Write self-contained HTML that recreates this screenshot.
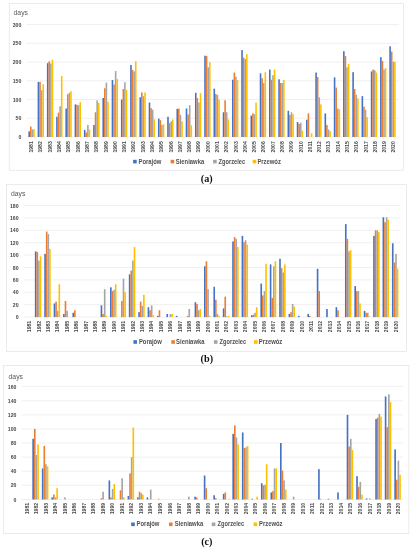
<!DOCTYPE html>
<html lang="en"><head><meta charset="utf-8"><title>Figure</title>
<style>
html,body{margin:0;padding:0;background:#fff;}
body{width:414px;height:550px;overflow:hidden;}
svg{display:block;}
svg text{font-family:"Liberation Sans",sans-serif;fill:#595959;}
.tk{font-size:5.2px;font-weight:bold;fill:#484848;}
.yr{font-size:5.1px;font-weight:bold;fill:#484848;}
.days{font-size:6.8px;}
.lg{font-size:6.4px;font-weight:bold;fill:#505050;}
svg text.pl{font-family:"Liberation Serif",serif;font-weight:bold;font-size:10.2px;fill:#111;}
</style></head><body>
<svg width="414" height="550" viewBox="0 0 414 550">
<rect width="414" height="550" fill="#fff"/>
<rect x="9.2" y="3.7" width="394.1" height="166.5" fill="#fff" stroke="#DEDEDE" stroke-width="0.6"/>
<line x1="26.6" x2="398.8" y1="137.00" y2="137.00" stroke="#D9D9D9" stroke-width="0.4"/>
<text x="21.3" y="139.00" text-anchor="end" class="tk">0</text>
<line x1="26.6" x2="398.8" y1="118.27" y2="118.27" stroke="#D9D9D9" stroke-width="0.4"/>
<text x="21.3" y="120.27" text-anchor="end" class="tk">50</text>
<line x1="26.6" x2="398.8" y1="99.53" y2="99.53" stroke="#D9D9D9" stroke-width="0.4"/>
<text x="21.3" y="101.53" text-anchor="end" class="tk">100</text>
<line x1="26.6" x2="398.8" y1="80.80" y2="80.80" stroke="#D9D9D9" stroke-width="0.4"/>
<text x="21.3" y="82.80" text-anchor="end" class="tk">150</text>
<line x1="26.6" x2="398.8" y1="62.06" y2="62.06" stroke="#D9D9D9" stroke-width="0.4"/>
<text x="21.3" y="64.06" text-anchor="end" class="tk">200</text>
<line x1="26.6" x2="398.8" y1="43.33" y2="43.33" stroke="#D9D9D9" stroke-width="0.4"/>
<text x="21.3" y="45.33" text-anchor="end" class="tk">250</text>
<line x1="26.6" x2="398.8" y1="24.59" y2="24.59" stroke="#D9D9D9" stroke-width="0.4"/>
<text x="21.3" y="26.59" text-anchor="end" class="tk">300</text>
<text x="13.6" y="14.6" class="days">days</text>
<rect x="28.38" y="131.38" width="1.59" height="5.62" fill="#4472C4"/>
<rect x="29.97" y="126.51" width="1.59" height="10.49" fill="#ED7D31"/>
<rect x="31.56" y="129.51" width="1.59" height="7.49" fill="#A5A5A5"/>
<rect x="33.15" y="129.13" width="1.59" height="7.87" fill="#FFC000"/>
<text transform="translate(33.20,141.2) rotate(-90)" text-anchor="end" class="yr">1981</text>
<rect x="37.63" y="81.92" width="1.59" height="55.08" fill="#4472C4"/>
<rect x="39.22" y="81.92" width="1.59" height="55.08" fill="#ED7D31"/>
<rect x="40.81" y="90.16" width="1.59" height="46.84" fill="#A5A5A5"/>
<rect x="42.41" y="84.17" width="1.59" height="52.83" fill="#FFC000"/>
<text transform="translate(42.49,141.2) rotate(-90)" text-anchor="end" class="yr">1982</text>
<rect x="46.89" y="63.18" width="1.59" height="73.82" fill="#4472C4"/>
<rect x="48.48" y="61.31" width="1.59" height="75.69" fill="#ED7D31"/>
<rect x="50.07" y="63.56" width="1.59" height="73.44" fill="#A5A5A5"/>
<rect x="51.66" y="59.81" width="1.59" height="77.19" fill="#FFC000"/>
<text transform="translate(51.77,141.2) rotate(-90)" text-anchor="end" class="yr">1983</text>
<rect x="56.14" y="116.77" width="1.59" height="20.23" fill="#4472C4"/>
<rect x="57.73" y="112.64" width="1.59" height="24.36" fill="#ED7D31"/>
<rect x="59.33" y="106.27" width="1.59" height="30.73" fill="#A5A5A5"/>
<rect x="60.92" y="75.92" width="1.59" height="61.08" fill="#FFC000"/>
<text transform="translate(61.06,141.2) rotate(-90)" text-anchor="end" class="yr">1984</text>
<rect x="65.40" y="108.52" width="1.59" height="28.48" fill="#4472C4"/>
<rect x="66.99" y="94.28" width="1.59" height="42.72" fill="#ED7D31"/>
<rect x="68.58" y="92.79" width="1.59" height="44.21" fill="#A5A5A5"/>
<rect x="70.17" y="91.29" width="1.59" height="45.71" fill="#FFC000"/>
<text transform="translate(70.35,141.2) rotate(-90)" text-anchor="end" class="yr">1985</text>
<rect x="74.65" y="104.40" width="1.59" height="32.60" fill="#4472C4"/>
<rect x="76.24" y="104.78" width="1.59" height="32.22" fill="#ED7D31"/>
<rect x="77.84" y="105.15" width="1.59" height="31.85" fill="#A5A5A5"/>
<rect x="79.43" y="102.15" width="1.59" height="34.85" fill="#FFC000"/>
<text transform="translate(79.64,141.2) rotate(-90)" text-anchor="end" class="yr">1986</text>
<rect x="83.91" y="129.88" width="1.59" height="7.12" fill="#4472C4"/>
<rect x="85.50" y="132.50" width="1.59" height="4.50" fill="#ED7D31"/>
<rect x="87.09" y="125.01" width="1.59" height="11.99" fill="#A5A5A5"/>
<rect x="88.68" y="129.51" width="1.59" height="7.49" fill="#FFC000"/>
<text transform="translate(88.92,141.2) rotate(-90)" text-anchor="end" class="yr">1987</text>
<rect x="93.16" y="125.01" width="1.59" height="11.99" fill="#4472C4"/>
<rect x="94.75" y="112.27" width="1.59" height="24.73" fill="#ED7D31"/>
<rect x="96.35" y="100.28" width="1.59" height="36.72" fill="#A5A5A5"/>
<rect x="97.94" y="102.90" width="1.59" height="34.10" fill="#FFC000"/>
<text transform="translate(98.21,141.2) rotate(-90)" text-anchor="end" class="yr">1988</text>
<rect x="102.42" y="98.03" width="1.59" height="38.97" fill="#4472C4"/>
<rect x="104.01" y="88.29" width="1.59" height="48.71" fill="#ED7D31"/>
<rect x="105.60" y="82.67" width="1.59" height="54.33" fill="#A5A5A5"/>
<rect x="107.19" y="101.78" width="1.59" height="35.22" fill="#FFC000"/>
<text transform="translate(107.50,141.2) rotate(-90)" text-anchor="end" class="yr">1989</text>
<rect x="111.67" y="80.05" width="1.59" height="56.95" fill="#4472C4"/>
<rect x="113.26" y="84.54" width="1.59" height="52.46" fill="#ED7D31"/>
<rect x="114.86" y="71.05" width="1.59" height="65.95" fill="#A5A5A5"/>
<rect x="116.45" y="78.92" width="1.59" height="58.08" fill="#FFC000"/>
<text transform="translate(116.78,141.2) rotate(-90)" text-anchor="end" class="yr">1990</text>
<rect x="120.93" y="99.53" width="1.59" height="37.47" fill="#4472C4"/>
<rect x="122.52" y="89.04" width="1.59" height="47.96" fill="#ED7D31"/>
<rect x="124.11" y="82.29" width="1.59" height="54.71" fill="#A5A5A5"/>
<rect x="125.70" y="89.79" width="1.59" height="47.21" fill="#FFC000"/>
<text transform="translate(126.07,141.2) rotate(-90)" text-anchor="end" class="yr">1991</text>
<rect x="130.18" y="65.06" width="1.59" height="71.94" fill="#4472C4"/>
<rect x="131.77" y="69.93" width="1.59" height="67.07" fill="#ED7D31"/>
<rect x="133.37" y="71.43" width="1.59" height="65.57" fill="#A5A5A5"/>
<rect x="134.96" y="61.31" width="1.59" height="75.69" fill="#FFC000"/>
<text transform="translate(135.36,141.2) rotate(-90)" text-anchor="end" class="yr">1992</text>
<rect x="139.44" y="97.28" width="1.59" height="39.72" fill="#4472C4"/>
<rect x="141.03" y="92.41" width="1.59" height="44.59" fill="#ED7D31"/>
<rect x="142.62" y="96.16" width="1.59" height="40.84" fill="#A5A5A5"/>
<rect x="144.21" y="92.41" width="1.59" height="44.59" fill="#FFC000"/>
<text transform="translate(144.64,141.2) rotate(-90)" text-anchor="end" class="yr">1993</text>
<rect x="148.69" y="102.53" width="1.59" height="34.47" fill="#4472C4"/>
<rect x="150.28" y="108.15" width="1.59" height="28.85" fill="#ED7D31"/>
<rect x="151.88" y="109.65" width="1.59" height="27.35" fill="#A5A5A5"/>
<rect x="153.47" y="119.39" width="1.59" height="17.61" fill="#FFC000"/>
<text transform="translate(153.93,141.2) rotate(-90)" text-anchor="end" class="yr">1994</text>
<rect x="157.95" y="118.64" width="1.59" height="18.36" fill="#4472C4"/>
<rect x="159.54" y="120.14" width="1.59" height="16.86" fill="#ED7D31"/>
<rect x="161.13" y="125.01" width="1.59" height="11.99" fill="#A5A5A5"/>
<rect x="162.72" y="124.26" width="1.59" height="12.74" fill="#FFC000"/>
<text transform="translate(163.22,141.2) rotate(-90)" text-anchor="end" class="yr">1995</text>
<rect x="167.20" y="116.77" width="1.59" height="20.23" fill="#4472C4"/>
<rect x="168.79" y="123.14" width="1.59" height="13.86" fill="#ED7D31"/>
<rect x="170.39" y="121.26" width="1.59" height="15.74" fill="#A5A5A5"/>
<rect x="171.98" y="119.39" width="1.59" height="17.61" fill="#FFC000"/>
<text transform="translate(172.51,141.2) rotate(-90)" text-anchor="end" class="yr">1996</text>
<rect x="176.46" y="108.90" width="1.59" height="28.10" fill="#4472C4"/>
<rect x="178.05" y="108.52" width="1.59" height="28.48" fill="#ED7D31"/>
<rect x="179.64" y="114.89" width="1.59" height="22.11" fill="#A5A5A5"/>
<rect x="181.23" y="121.26" width="1.59" height="15.74" fill="#FFC000"/>
<text transform="translate(181.79,141.2) rotate(-90)" text-anchor="end" class="yr">1997</text>
<rect x="185.71" y="108.52" width="1.59" height="28.48" fill="#4472C4"/>
<rect x="187.30" y="114.52" width="1.59" height="22.48" fill="#ED7D31"/>
<rect x="188.90" y="105.15" width="1.59" height="31.85" fill="#A5A5A5"/>
<rect x="190.49" y="125.38" width="1.59" height="11.62" fill="#FFC000"/>
<text transform="translate(191.08,141.2) rotate(-90)" text-anchor="end" class="yr">1998</text>
<rect x="194.97" y="92.79" width="1.59" height="44.21" fill="#4472C4"/>
<rect x="196.56" y="98.03" width="1.59" height="38.97" fill="#ED7D31"/>
<rect x="198.15" y="102.53" width="1.59" height="34.47" fill="#A5A5A5"/>
<rect x="199.74" y="93.16" width="1.59" height="43.84" fill="#FFC000"/>
<text transform="translate(200.37,141.2) rotate(-90)" text-anchor="end" class="yr">1999</text>
<rect x="204.22" y="55.69" width="1.59" height="81.31" fill="#4472C4"/>
<rect x="205.81" y="56.06" width="1.59" height="80.94" fill="#ED7D31"/>
<rect x="207.41" y="67.31" width="1.59" height="69.69" fill="#A5A5A5"/>
<rect x="209.00" y="62.06" width="1.59" height="74.94" fill="#FFC000"/>
<text transform="translate(209.65,141.2) rotate(-90)" text-anchor="end" class="yr">2000</text>
<rect x="213.48" y="88.66" width="1.59" height="48.34" fill="#4472C4"/>
<rect x="215.07" y="93.91" width="1.59" height="43.09" fill="#ED7D31"/>
<rect x="216.66" y="95.03" width="1.59" height="41.97" fill="#A5A5A5"/>
<rect x="218.25" y="99.53" width="1.59" height="37.47" fill="#FFC000"/>
<text transform="translate(218.94,141.2) rotate(-90)" text-anchor="end" class="yr">2001</text>
<rect x="222.73" y="112.27" width="1.59" height="24.73" fill="#4472C4"/>
<rect x="224.32" y="100.28" width="1.59" height="36.72" fill="#ED7D31"/>
<rect x="225.92" y="112.27" width="1.59" height="24.73" fill="#A5A5A5"/>
<rect x="227.51" y="119.39" width="1.59" height="17.61" fill="#FFC000"/>
<text transform="translate(228.23,141.2) rotate(-90)" text-anchor="end" class="yr">2002</text>
<rect x="231.99" y="79.67" width="1.59" height="57.33" fill="#4472C4"/>
<rect x="233.58" y="72.55" width="1.59" height="64.45" fill="#ED7D31"/>
<rect x="235.17" y="76.67" width="1.59" height="60.33" fill="#A5A5A5"/>
<rect x="236.76" y="80.05" width="1.59" height="56.95" fill="#FFC000"/>
<text transform="translate(237.51,141.2) rotate(-90)" text-anchor="end" class="yr">2003</text>
<rect x="241.24" y="50.07" width="1.59" height="86.93" fill="#4472C4"/>
<rect x="242.83" y="57.56" width="1.59" height="79.44" fill="#ED7D31"/>
<rect x="244.43" y="59.06" width="1.59" height="77.94" fill="#A5A5A5"/>
<rect x="246.02" y="54.19" width="1.59" height="82.81" fill="#FFC000"/>
<text transform="translate(246.80,141.2) rotate(-90)" text-anchor="end" class="yr">2004</text>
<rect x="250.50" y="115.64" width="1.59" height="21.36" fill="#4472C4"/>
<rect x="252.09" y="113.39" width="1.59" height="23.61" fill="#ED7D31"/>
<rect x="253.68" y="114.14" width="1.59" height="22.86" fill="#A5A5A5"/>
<rect x="255.27" y="102.53" width="1.59" height="34.47" fill="#FFC000"/>
<text transform="translate(256.09,141.2) rotate(-90)" text-anchor="end" class="yr">2005</text>
<rect x="259.75" y="73.30" width="1.59" height="63.70" fill="#4472C4"/>
<rect x="261.34" y="78.17" width="1.59" height="58.83" fill="#ED7D31"/>
<rect x="262.94" y="83.04" width="1.59" height="53.96" fill="#A5A5A5"/>
<rect x="264.53" y="72.18" width="1.59" height="64.82" fill="#FFC000"/>
<text transform="translate(265.38,141.2) rotate(-90)" text-anchor="end" class="yr">2006</text>
<rect x="269.01" y="69.55" width="1.59" height="67.45" fill="#4472C4"/>
<rect x="270.60" y="79.67" width="1.59" height="57.33" fill="#ED7D31"/>
<rect x="272.19" y="75.17" width="1.59" height="61.83" fill="#A5A5A5"/>
<rect x="273.78" y="69.55" width="1.59" height="67.45" fill="#FFC000"/>
<text transform="translate(274.66,141.2) rotate(-90)" text-anchor="end" class="yr">2007</text>
<rect x="278.26" y="79.30" width="1.59" height="57.70" fill="#4472C4"/>
<rect x="279.85" y="83.04" width="1.59" height="53.96" fill="#ED7D31"/>
<rect x="281.44" y="83.04" width="1.59" height="53.96" fill="#A5A5A5"/>
<rect x="283.04" y="80.05" width="1.59" height="56.95" fill="#FFC000"/>
<text transform="translate(283.95,141.2) rotate(-90)" text-anchor="end" class="yr">2008</text>
<rect x="287.52" y="110.77" width="1.59" height="26.23" fill="#4472C4"/>
<rect x="289.11" y="114.89" width="1.59" height="22.11" fill="#ED7D31"/>
<rect x="290.70" y="112.27" width="1.59" height="24.73" fill="#A5A5A5"/>
<rect x="292.29" y="114.14" width="1.59" height="22.86" fill="#FFC000"/>
<text transform="translate(293.24,141.2) rotate(-90)" text-anchor="end" class="yr">2009</text>
<rect x="296.77" y="122.01" width="1.59" height="14.99" fill="#4472C4"/>
<rect x="298.36" y="123.89" width="1.59" height="13.11" fill="#ED7D31"/>
<rect x="299.96" y="122.76" width="1.59" height="14.24" fill="#A5A5A5"/>
<rect x="301.55" y="130.63" width="1.59" height="6.37" fill="#FFC000"/>
<text transform="translate(302.52,141.2) rotate(-90)" text-anchor="end" class="yr">2010</text>
<rect x="306.03" y="119.76" width="1.59" height="17.24" fill="#4472C4"/>
<rect x="307.62" y="113.39" width="1.59" height="23.61" fill="#ED7D31"/>
<rect x="310.80" y="133.25" width="1.59" height="3.75" fill="#FFC000"/>
<text transform="translate(311.81,141.2) rotate(-90)" text-anchor="end" class="yr">2011</text>
<rect x="315.28" y="72.55" width="1.59" height="64.45" fill="#4472C4"/>
<rect x="316.87" y="77.05" width="1.59" height="59.95" fill="#ED7D31"/>
<rect x="318.47" y="97.28" width="1.59" height="39.72" fill="#A5A5A5"/>
<rect x="320.06" y="104.40" width="1.59" height="32.60" fill="#FFC000"/>
<text transform="translate(321.10,141.2) rotate(-90)" text-anchor="end" class="yr">2012</text>
<rect x="324.54" y="113.39" width="1.59" height="23.61" fill="#4472C4"/>
<rect x="326.13" y="125.01" width="1.59" height="11.99" fill="#ED7D31"/>
<rect x="327.72" y="129.51" width="1.59" height="7.49" fill="#A5A5A5"/>
<rect x="329.31" y="131.00" width="1.59" height="6.00" fill="#FFC000"/>
<text transform="translate(330.38,141.2) rotate(-90)" text-anchor="end" class="yr">2013</text>
<rect x="333.79" y="77.42" width="1.59" height="59.58" fill="#4472C4"/>
<rect x="335.38" y="87.54" width="1.59" height="49.46" fill="#ED7D31"/>
<rect x="336.98" y="108.52" width="1.59" height="28.48" fill="#A5A5A5"/>
<rect x="338.57" y="109.27" width="1.59" height="27.73" fill="#FFC000"/>
<text transform="translate(339.67,141.2) rotate(-90)" text-anchor="end" class="yr">2014</text>
<rect x="343.05" y="51.19" width="1.59" height="85.81" fill="#4472C4"/>
<rect x="344.64" y="56.06" width="1.59" height="80.94" fill="#ED7D31"/>
<rect x="346.23" y="67.31" width="1.59" height="69.69" fill="#A5A5A5"/>
<rect x="347.82" y="63.93" width="1.59" height="73.07" fill="#FFC000"/>
<text transform="translate(348.96,141.2) rotate(-90)" text-anchor="end" class="yr">2015</text>
<rect x="352.30" y="72.18" width="1.59" height="64.82" fill="#4472C4"/>
<rect x="353.89" y="89.04" width="1.59" height="47.96" fill="#ED7D31"/>
<rect x="355.49" y="94.66" width="1.59" height="42.34" fill="#A5A5A5"/>
<rect x="357.08" y="98.41" width="1.59" height="38.59" fill="#FFC000"/>
<text transform="translate(358.25,141.2) rotate(-90)" text-anchor="end" class="yr">2016</text>
<rect x="361.56" y="96.16" width="1.59" height="40.84" fill="#4472C4"/>
<rect x="363.15" y="106.65" width="1.59" height="30.35" fill="#ED7D31"/>
<rect x="364.74" y="109.65" width="1.59" height="27.35" fill="#A5A5A5"/>
<rect x="366.33" y="117.14" width="1.59" height="19.86" fill="#FFC000"/>
<text transform="translate(367.53,141.2) rotate(-90)" text-anchor="end" class="yr">2017</text>
<rect x="370.81" y="71.43" width="1.59" height="65.57" fill="#4472C4"/>
<rect x="372.40" y="69.55" width="1.59" height="67.45" fill="#ED7D31"/>
<rect x="374.00" y="70.30" width="1.59" height="66.70" fill="#A5A5A5"/>
<rect x="375.59" y="72.55" width="1.59" height="64.45" fill="#FFC000"/>
<text transform="translate(376.82,141.2) rotate(-90)" text-anchor="end" class="yr">2018</text>
<rect x="380.07" y="57.19" width="1.59" height="79.81" fill="#4472C4"/>
<rect x="381.66" y="60.94" width="1.59" height="76.06" fill="#ED7D31"/>
<rect x="383.25" y="69.55" width="1.59" height="67.45" fill="#A5A5A5"/>
<rect x="384.84" y="68.06" width="1.59" height="68.94" fill="#FFC000"/>
<text transform="translate(386.11,141.2) rotate(-90)" text-anchor="end" class="yr">2019</text>
<rect x="389.32" y="46.32" width="1.59" height="90.68" fill="#4472C4"/>
<rect x="390.91" y="51.57" width="1.59" height="85.43" fill="#ED7D31"/>
<rect x="392.51" y="61.69" width="1.59" height="75.31" fill="#A5A5A5"/>
<rect x="394.10" y="61.69" width="1.59" height="75.31" fill="#FFC000"/>
<text transform="translate(395.39,141.2) rotate(-90)" text-anchor="end" class="yr">2020</text>
<rect x="133.1" y="159.8" width="3.6" height="3.6" fill="#4472C4"/>
<text transform="translate(138.5,163.6) scale(0.92,1)" class="lg">Porajów</text>
<rect x="170.6" y="159.8" width="3.6" height="3.6" fill="#ED7D31"/>
<text transform="translate(175.8,163.6) scale(0.92,1)" class="lg">Sieniawka</text>
<rect x="213.1" y="159.8" width="3.6" height="3.6" fill="#A5A5A5"/>
<text transform="translate(218.5,163.6) scale(0.89,1)" class="lg">Zgorzelec</text>
<rect x="252.7" y="159.8" width="3.6" height="3.6" fill="#FFC000"/>
<text transform="translate(257.4,163.6) scale(0.92,1)" class="lg">Przewóz</text>
<text transform="translate(206.8,181.7) scale(1.0,1)" text-anchor="middle" class="pl">(a)</text>
<rect x="6.5" y="184.3" width="400.1" height="167.1" fill="#fff" stroke="#DEDEDE" stroke-width="0.6"/>
<line x1="24.2" x2="400.4" y1="317.10" y2="317.10" stroke="#D9D9D9" stroke-width="0.4"/>
<text x="18.6" y="319.10" text-anchor="end" class="tk">0</text>
<line x1="24.2" x2="400.4" y1="304.70" y2="304.70" stroke="#D9D9D9" stroke-width="0.4"/>
<text x="18.6" y="306.70" text-anchor="end" class="tk">20</text>
<line x1="24.2" x2="400.4" y1="292.30" y2="292.30" stroke="#D9D9D9" stroke-width="0.4"/>
<text x="18.6" y="294.30" text-anchor="end" class="tk">40</text>
<line x1="24.2" x2="400.4" y1="279.90" y2="279.90" stroke="#D9D9D9" stroke-width="0.4"/>
<text x="18.6" y="281.90" text-anchor="end" class="tk">60</text>
<line x1="24.2" x2="400.4" y1="267.50" y2="267.50" stroke="#D9D9D9" stroke-width="0.4"/>
<text x="18.6" y="269.50" text-anchor="end" class="tk">80</text>
<line x1="24.2" x2="400.4" y1="255.10" y2="255.10" stroke="#D9D9D9" stroke-width="0.4"/>
<text x="18.6" y="257.10" text-anchor="end" class="tk">100</text>
<line x1="24.2" x2="400.4" y1="242.70" y2="242.70" stroke="#D9D9D9" stroke-width="0.4"/>
<text x="18.6" y="244.70" text-anchor="end" class="tk">120</text>
<line x1="24.2" x2="400.4" y1="230.30" y2="230.30" stroke="#D9D9D9" stroke-width="0.4"/>
<text x="18.6" y="232.30" text-anchor="end" class="tk">140</text>
<line x1="24.2" x2="400.4" y1="217.90" y2="217.90" stroke="#D9D9D9" stroke-width="0.4"/>
<text x="18.6" y="219.90" text-anchor="end" class="tk">160</text>
<line x1="24.2" x2="400.4" y1="205.50" y2="205.50" stroke="#D9D9D9" stroke-width="0.4"/>
<text x="18.6" y="207.50" text-anchor="end" class="tk">180</text>
<text x="11.0" y="196.0" class="days">days</text>
<text transform="translate(31.16,320.8) rotate(-90)" text-anchor="end" class="yr">1981</text>
<rect x="34.86" y="251.38" width="1.62" height="65.72" fill="#4472C4"/>
<rect x="36.48" y="252.00" width="1.62" height="65.10" fill="#ED7D31"/>
<rect x="38.10" y="260.68" width="1.62" height="56.42" fill="#A5A5A5"/>
<rect x="39.71" y="256.34" width="1.62" height="60.76" fill="#FFC000"/>
<text transform="translate(40.56,320.8) rotate(-90)" text-anchor="end" class="yr">1982</text>
<rect x="44.26" y="253.86" width="1.62" height="63.24" fill="#4472C4"/>
<rect x="45.88" y="231.54" width="1.62" height="85.56" fill="#ED7D31"/>
<rect x="47.49" y="234.02" width="1.62" height="83.08" fill="#A5A5A5"/>
<rect x="49.11" y="248.90" width="1.62" height="68.20" fill="#FFC000"/>
<text transform="translate(49.95,320.8) rotate(-90)" text-anchor="end" class="yr">1983</text>
<rect x="53.66" y="303.46" width="1.62" height="13.64" fill="#4472C4"/>
<rect x="55.27" y="301.60" width="1.62" height="15.50" fill="#ED7D31"/>
<rect x="56.89" y="310.90" width="1.62" height="6.20" fill="#A5A5A5"/>
<rect x="58.51" y="284.24" width="1.62" height="32.86" fill="#FFC000"/>
<text transform="translate(59.35,320.8) rotate(-90)" text-anchor="end" class="yr">1984</text>
<rect x="63.06" y="314.00" width="1.62" height="3.10" fill="#4472C4"/>
<rect x="64.67" y="300.98" width="1.62" height="16.12" fill="#ED7D31"/>
<rect x="66.29" y="310.90" width="1.62" height="6.20" fill="#A5A5A5"/>
<text transform="translate(68.74,320.8) rotate(-90)" text-anchor="end" class="yr">1985</text>
<rect x="72.45" y="312.76" width="1.62" height="4.34" fill="#4472C4"/>
<rect x="74.07" y="310.28" width="1.62" height="6.82" fill="#ED7D31"/>
<text transform="translate(78.14,320.8) rotate(-90)" text-anchor="end" class="yr">1986</text>
<text transform="translate(87.54,320.8) rotate(-90)" text-anchor="end" class="yr">1987</text>
<text transform="translate(96.93,320.8) rotate(-90)" text-anchor="end" class="yr">1988</text>
<rect x="100.64" y="305.32" width="1.62" height="11.78" fill="#4472C4"/>
<rect x="102.26" y="314.00" width="1.62" height="3.10" fill="#ED7D31"/>
<rect x="103.88" y="289.20" width="1.62" height="27.90" fill="#A5A5A5"/>
<rect x="105.49" y="315.86" width="1.62" height="1.24" fill="#FFC000"/>
<text transform="translate(106.33,320.8) rotate(-90)" text-anchor="end" class="yr">1989</text>
<rect x="110.04" y="287.34" width="1.62" height="29.76" fill="#4472C4"/>
<rect x="111.66" y="291.06" width="1.62" height="26.04" fill="#ED7D31"/>
<rect x="113.27" y="289.82" width="1.62" height="27.28" fill="#A5A5A5"/>
<rect x="114.89" y="284.24" width="1.62" height="32.86" fill="#FFC000"/>
<text transform="translate(115.72,320.8) rotate(-90)" text-anchor="end" class="yr">1990</text>
<rect x="121.05" y="300.98" width="1.62" height="16.12" fill="#ED7D31"/>
<rect x="122.67" y="278.66" width="1.62" height="38.44" fill="#A5A5A5"/>
<rect x="124.29" y="292.30" width="1.62" height="24.80" fill="#FFC000"/>
<text transform="translate(125.12,320.8) rotate(-90)" text-anchor="end" class="yr">1991</text>
<rect x="128.83" y="274.32" width="1.62" height="42.78" fill="#4472C4"/>
<rect x="130.45" y="270.60" width="1.62" height="46.50" fill="#ED7D31"/>
<rect x="132.07" y="260.68" width="1.62" height="56.42" fill="#A5A5A5"/>
<rect x="133.68" y="247.04" width="1.62" height="70.06" fill="#FFC000"/>
<text transform="translate(134.52,320.8) rotate(-90)" text-anchor="end" class="yr">1992</text>
<rect x="138.23" y="312.14" width="1.62" height="4.96" fill="#4472C4"/>
<rect x="139.85" y="301.60" width="1.62" height="15.50" fill="#ED7D31"/>
<rect x="141.46" y="305.94" width="1.62" height="11.16" fill="#A5A5A5"/>
<rect x="143.08" y="294.78" width="1.62" height="22.32" fill="#FFC000"/>
<text transform="translate(143.91,320.8) rotate(-90)" text-anchor="end" class="yr">1993</text>
<rect x="147.63" y="307.18" width="1.62" height="9.92" fill="#4472C4"/>
<rect x="149.24" y="310.28" width="1.62" height="6.82" fill="#ED7D31"/>
<rect x="150.86" y="305.32" width="1.62" height="11.78" fill="#A5A5A5"/>
<rect x="152.48" y="315.24" width="1.62" height="1.86" fill="#FFC000"/>
<text transform="translate(153.31,320.8) rotate(-90)" text-anchor="end" class="yr">1994</text>
<rect x="157.03" y="315.86" width="1.62" height="1.24" fill="#4472C4"/>
<rect x="158.64" y="310.28" width="1.62" height="6.82" fill="#ED7D31"/>
<text transform="translate(162.70,320.8) rotate(-90)" text-anchor="end" class="yr">1995</text>
<rect x="166.42" y="314.00" width="1.62" height="3.10" fill="#4472C4"/>
<rect x="169.66" y="314.00" width="1.62" height="3.10" fill="#A5A5A5"/>
<rect x="171.27" y="314.00" width="1.62" height="3.10" fill="#FFC000"/>
<text transform="translate(172.10,320.8) rotate(-90)" text-anchor="end" class="yr">1996</text>
<rect x="175.82" y="315.86" width="1.62" height="1.24" fill="#4472C4"/>
<text transform="translate(181.50,320.8) rotate(-90)" text-anchor="end" class="yr">1997</text>
<rect x="186.83" y="315.86" width="1.62" height="1.24" fill="#ED7D31"/>
<rect x="188.45" y="309.04" width="1.62" height="8.06" fill="#A5A5A5"/>
<text transform="translate(190.89,320.8) rotate(-90)" text-anchor="end" class="yr">1998</text>
<rect x="194.61" y="302.22" width="1.62" height="14.88" fill="#4472C4"/>
<rect x="196.23" y="304.08" width="1.62" height="13.02" fill="#ED7D31"/>
<rect x="197.85" y="310.28" width="1.62" height="6.82" fill="#A5A5A5"/>
<rect x="199.46" y="309.04" width="1.62" height="8.06" fill="#FFC000"/>
<text transform="translate(200.29,320.8) rotate(-90)" text-anchor="end" class="yr">1999</text>
<rect x="204.01" y="266.26" width="1.62" height="50.84" fill="#4472C4"/>
<rect x="205.63" y="261.30" width="1.62" height="55.80" fill="#ED7D31"/>
<rect x="207.24" y="289.20" width="1.62" height="27.90" fill="#A5A5A5"/>
<rect x="208.86" y="315.86" width="1.62" height="1.24" fill="#FFC000"/>
<text transform="translate(209.68,320.8) rotate(-90)" text-anchor="end" class="yr">2000</text>
<rect x="213.41" y="286.72" width="1.62" height="30.38" fill="#4472C4"/>
<rect x="215.02" y="299.74" width="1.62" height="17.36" fill="#ED7D31"/>
<rect x="216.64" y="314.00" width="1.62" height="3.10" fill="#A5A5A5"/>
<rect x="218.26" y="315.86" width="1.62" height="1.24" fill="#FFC000"/>
<text transform="translate(219.08,320.8) rotate(-90)" text-anchor="end" class="yr">2001</text>
<rect x="222.80" y="308.42" width="1.62" height="8.68" fill="#4472C4"/>
<rect x="224.42" y="296.64" width="1.62" height="20.46" fill="#ED7D31"/>
<rect x="226.04" y="316.48" width="1.62" height="0.62" fill="#A5A5A5"/>
<rect x="227.65" y="315.86" width="1.62" height="1.24" fill="#FFC000"/>
<text transform="translate(228.48,320.8) rotate(-90)" text-anchor="end" class="yr">2002</text>
<rect x="232.20" y="241.46" width="1.62" height="75.64" fill="#4472C4"/>
<rect x="233.82" y="237.12" width="1.62" height="79.98" fill="#ED7D31"/>
<rect x="235.43" y="238.98" width="1.62" height="78.12" fill="#A5A5A5"/>
<rect x="237.05" y="247.04" width="1.62" height="70.06" fill="#FFC000"/>
<text transform="translate(237.87,320.8) rotate(-90)" text-anchor="end" class="yr">2003</text>
<rect x="241.60" y="235.88" width="1.62" height="81.22" fill="#4472C4"/>
<rect x="243.21" y="242.08" width="1.62" height="75.02" fill="#ED7D31"/>
<rect x="244.83" y="240.22" width="1.62" height="76.88" fill="#A5A5A5"/>
<rect x="246.45" y="244.56" width="1.62" height="72.54" fill="#FFC000"/>
<text transform="translate(247.27,320.8) rotate(-90)" text-anchor="end" class="yr">2004</text>
<rect x="251.00" y="315.24" width="1.62" height="1.86" fill="#4472C4"/>
<rect x="252.61" y="314.62" width="1.62" height="2.48" fill="#ED7D31"/>
<rect x="254.23" y="312.76" width="1.62" height="4.34" fill="#A5A5A5"/>
<rect x="255.84" y="307.18" width="1.62" height="9.92" fill="#FFC000"/>
<text transform="translate(256.66,320.8) rotate(-90)" text-anchor="end" class="yr">2005</text>
<rect x="260.39" y="283.62" width="1.62" height="33.48" fill="#4472C4"/>
<rect x="262.01" y="295.40" width="1.62" height="21.70" fill="#ED7D31"/>
<rect x="263.62" y="291.06" width="1.62" height="26.04" fill="#A5A5A5"/>
<rect x="265.24" y="263.78" width="1.62" height="53.32" fill="#FFC000"/>
<text transform="translate(266.06,320.8) rotate(-90)" text-anchor="end" class="yr">2006</text>
<rect x="269.79" y="264.40" width="1.62" height="52.70" fill="#4472C4"/>
<rect x="271.41" y="297.88" width="1.62" height="19.22" fill="#ED7D31"/>
<rect x="273.02" y="266.26" width="1.62" height="50.84" fill="#A5A5A5"/>
<rect x="274.64" y="261.30" width="1.62" height="55.80" fill="#FFC000"/>
<text transform="translate(275.46,320.8) rotate(-90)" text-anchor="end" class="yr">2007</text>
<rect x="279.19" y="258.82" width="1.62" height="58.28" fill="#4472C4"/>
<rect x="280.80" y="268.12" width="1.62" height="48.98" fill="#ED7D31"/>
<rect x="282.42" y="272.46" width="1.62" height="44.64" fill="#A5A5A5"/>
<rect x="284.04" y="264.40" width="1.62" height="52.70" fill="#FFC000"/>
<text transform="translate(284.85,320.8) rotate(-90)" text-anchor="end" class="yr">2008</text>
<rect x="288.58" y="314.00" width="1.62" height="3.10" fill="#4472C4"/>
<rect x="290.20" y="312.14" width="1.62" height="4.96" fill="#ED7D31"/>
<rect x="291.82" y="304.08" width="1.62" height="13.02" fill="#A5A5A5"/>
<rect x="293.43" y="306.56" width="1.62" height="10.54" fill="#FFC000"/>
<text transform="translate(294.25,320.8) rotate(-90)" text-anchor="end" class="yr">2009</text>
<rect x="297.98" y="315.86" width="1.62" height="1.24" fill="#4472C4"/>
<text transform="translate(303.64,320.8) rotate(-90)" text-anchor="end" class="yr">2010</text>
<rect x="307.38" y="314.00" width="1.62" height="3.10" fill="#4472C4"/>
<rect x="308.99" y="315.86" width="1.62" height="1.24" fill="#ED7D31"/>
<text transform="translate(313.04,320.8) rotate(-90)" text-anchor="end" class="yr">2011</text>
<rect x="316.77" y="268.74" width="1.62" height="48.36" fill="#4472C4"/>
<rect x="318.39" y="291.06" width="1.62" height="26.04" fill="#ED7D31"/>
<text transform="translate(322.44,320.8) rotate(-90)" text-anchor="end" class="yr">2012</text>
<rect x="326.17" y="309.04" width="1.62" height="8.06" fill="#4472C4"/>
<text transform="translate(331.83,320.8) rotate(-90)" text-anchor="end" class="yr">2013</text>
<rect x="335.57" y="307.18" width="1.62" height="9.92" fill="#4472C4"/>
<rect x="337.18" y="310.28" width="1.62" height="6.82" fill="#ED7D31"/>
<text transform="translate(341.23,320.8) rotate(-90)" text-anchor="end" class="yr">2014</text>
<rect x="344.97" y="224.10" width="1.62" height="93.00" fill="#4472C4"/>
<rect x="346.58" y="238.98" width="1.62" height="78.12" fill="#ED7D31"/>
<rect x="348.20" y="251.38" width="1.62" height="65.72" fill="#A5A5A5"/>
<rect x="349.81" y="250.14" width="1.62" height="66.96" fill="#FFC000"/>
<text transform="translate(350.62,320.8) rotate(-90)" text-anchor="end" class="yr">2015</text>
<rect x="354.36" y="286.10" width="1.62" height="31.00" fill="#4472C4"/>
<rect x="355.98" y="291.06" width="1.62" height="26.04" fill="#ED7D31"/>
<rect x="357.59" y="291.06" width="1.62" height="26.04" fill="#A5A5A5"/>
<rect x="359.21" y="303.46" width="1.62" height="13.64" fill="#FFC000"/>
<text transform="translate(360.02,320.8) rotate(-90)" text-anchor="end" class="yr">2016</text>
<rect x="363.76" y="310.90" width="1.62" height="6.20" fill="#4472C4"/>
<rect x="365.38" y="312.76" width="1.62" height="4.34" fill="#ED7D31"/>
<rect x="366.99" y="312.76" width="1.62" height="4.34" fill="#A5A5A5"/>
<rect x="368.61" y="316.48" width="1.62" height="0.62" fill="#FFC000"/>
<text transform="translate(369.42,320.8) rotate(-90)" text-anchor="end" class="yr">2017</text>
<rect x="373.16" y="235.88" width="1.62" height="81.22" fill="#4472C4"/>
<rect x="374.77" y="230.30" width="1.62" height="86.80" fill="#ED7D31"/>
<rect x="376.39" y="230.30" width="1.62" height="86.80" fill="#A5A5A5"/>
<rect x="378.01" y="232.16" width="1.62" height="84.94" fill="#FFC000"/>
<text transform="translate(378.81,320.8) rotate(-90)" text-anchor="end" class="yr">2018</text>
<rect x="382.55" y="217.28" width="1.62" height="99.82" fill="#4472C4"/>
<rect x="384.17" y="222.24" width="1.62" height="94.86" fill="#ED7D31"/>
<rect x="385.79" y="217.28" width="1.62" height="99.82" fill="#A5A5A5"/>
<rect x="387.40" y="219.76" width="1.62" height="97.34" fill="#FFC000"/>
<text transform="translate(388.21,320.8) rotate(-90)" text-anchor="end" class="yr">2019</text>
<rect x="391.95" y="243.32" width="1.62" height="73.78" fill="#4472C4"/>
<rect x="393.57" y="262.54" width="1.62" height="54.56" fill="#ED7D31"/>
<rect x="395.18" y="253.86" width="1.62" height="63.24" fill="#A5A5A5"/>
<rect x="396.80" y="268.74" width="1.62" height="48.36" fill="#FFC000"/>
<text transform="translate(397.60,320.8) rotate(-90)" text-anchor="end" class="yr">2020</text>
<rect x="133.4" y="340.2" width="3.6" height="3.6" fill="#4472C4"/>
<text transform="translate(138.9,344.0) scale(0.92,1)" class="lg">Porajów</text>
<rect x="171.3" y="340.2" width="3.6" height="3.6" fill="#ED7D31"/>
<text transform="translate(176.1,344.0) scale(0.92,1)" class="lg">Sieniawka</text>
<rect x="213.9" y="340.2" width="3.6" height="3.6" fill="#A5A5A5"/>
<text transform="translate(219.5,344.0) scale(0.89,1)" class="lg">Zgorzelec</text>
<rect x="254.0" y="340.2" width="3.6" height="3.6" fill="#FFC000"/>
<text transform="translate(258.8,344.0) scale(0.92,1)" class="lg">Przewóz</text>
<text transform="translate(206.8,362.1) scale(1.0,1)" text-anchor="middle" class="pl">(b)</text>
<rect x="3.6" y="365.3" width="405.3" height="168.3" fill="#fff" stroke="#DEDEDE" stroke-width="0.6"/>
<line x1="21.6" x2="403.0" y1="499.50" y2="499.50" stroke="#D9D9D9" stroke-width="0.4"/>
<text x="16.5" y="501.50" text-anchor="end" class="tk">0</text>
<line x1="21.6" x2="403.0" y1="485.39" y2="485.39" stroke="#D9D9D9" stroke-width="0.4"/>
<text x="16.5" y="487.39" text-anchor="end" class="tk">20</text>
<line x1="21.6" x2="403.0" y1="471.28" y2="471.28" stroke="#D9D9D9" stroke-width="0.4"/>
<text x="16.5" y="473.28" text-anchor="end" class="tk">40</text>
<line x1="21.6" x2="403.0" y1="457.16" y2="457.16" stroke="#D9D9D9" stroke-width="0.4"/>
<text x="16.5" y="459.16" text-anchor="end" class="tk">60</text>
<line x1="21.6" x2="403.0" y1="443.05" y2="443.05" stroke="#D9D9D9" stroke-width="0.4"/>
<text x="16.5" y="445.05" text-anchor="end" class="tk">80</text>
<line x1="21.6" x2="403.0" y1="428.94" y2="428.94" stroke="#D9D9D9" stroke-width="0.4"/>
<text x="16.5" y="430.94" text-anchor="end" class="tk">100</text>
<line x1="21.6" x2="403.0" y1="414.83" y2="414.83" stroke="#D9D9D9" stroke-width="0.4"/>
<text x="16.5" y="416.83" text-anchor="end" class="tk">120</text>
<line x1="21.6" x2="403.0" y1="400.72" y2="400.72" stroke="#D9D9D9" stroke-width="0.4"/>
<text x="16.5" y="402.72" text-anchor="end" class="tk">140</text>
<line x1="21.6" x2="403.0" y1="386.60" y2="386.60" stroke="#D9D9D9" stroke-width="0.4"/>
<text x="16.5" y="388.60" text-anchor="end" class="tk">160</text>
<text x="8.6" y="378.7" class="days">days</text>
<text transform="translate(28.65,502.9) rotate(-90)" text-anchor="end" class="yr">1981</text>
<rect x="32.32" y="438.82" width="1.64" height="60.68" fill="#4472C4"/>
<rect x="33.96" y="428.94" width="1.64" height="70.56" fill="#ED7D31"/>
<rect x="35.60" y="455.05" width="1.64" height="44.45" fill="#A5A5A5"/>
<rect x="37.23" y="444.46" width="1.64" height="55.04" fill="#FFC000"/>
<text transform="translate(38.17,502.9) rotate(-90)" text-anchor="end" class="yr">1982</text>
<rect x="41.85" y="468.45" width="1.64" height="31.05" fill="#4472C4"/>
<rect x="43.48" y="445.87" width="1.64" height="53.63" fill="#ED7D31"/>
<rect x="45.12" y="464.22" width="1.64" height="35.28" fill="#A5A5A5"/>
<rect x="46.76" y="466.34" width="1.64" height="33.16" fill="#FFC000"/>
<text transform="translate(47.70,502.9) rotate(-90)" text-anchor="end" class="yr">1983</text>
<rect x="51.37" y="497.38" width="1.64" height="2.12" fill="#4472C4"/>
<rect x="53.01" y="494.56" width="1.64" height="4.94" fill="#ED7D31"/>
<rect x="54.65" y="497.38" width="1.64" height="2.12" fill="#A5A5A5"/>
<rect x="56.29" y="488.21" width="1.64" height="11.29" fill="#FFC000"/>
<text transform="translate(57.22,502.9) rotate(-90)" text-anchor="end" class="yr">1984</text>
<rect x="64.17" y="497.38" width="1.64" height="2.12" fill="#A5A5A5"/>
<text transform="translate(66.75,502.9) rotate(-90)" text-anchor="end" class="yr">1985</text>
<text transform="translate(76.27,502.9) rotate(-90)" text-anchor="end" class="yr">1986</text>
<text transform="translate(85.79,502.9) rotate(-90)" text-anchor="end" class="yr">1987</text>
<text transform="translate(95.32,502.9) rotate(-90)" text-anchor="end" class="yr">1988</text>
<rect x="100.64" y="498.09" width="1.64" height="1.41" fill="#ED7D31"/>
<rect x="102.28" y="491.74" width="1.64" height="7.76" fill="#A5A5A5"/>
<text transform="translate(104.84,502.9) rotate(-90)" text-anchor="end" class="yr">1989</text>
<rect x="108.53" y="480.45" width="1.64" height="19.05" fill="#4472C4"/>
<rect x="110.17" y="497.38" width="1.64" height="2.12" fill="#ED7D31"/>
<rect x="111.80" y="488.92" width="1.64" height="10.58" fill="#A5A5A5"/>
<rect x="113.44" y="483.98" width="1.64" height="15.52" fill="#FFC000"/>
<text transform="translate(114.37,502.9) rotate(-90)" text-anchor="end" class="yr">1990</text>
<rect x="119.69" y="490.33" width="1.64" height="9.17" fill="#ED7D31"/>
<rect x="121.33" y="478.33" width="1.64" height="21.17" fill="#A5A5A5"/>
<rect x="122.97" y="497.38" width="1.64" height="2.12" fill="#FFC000"/>
<text transform="translate(123.89,502.9) rotate(-90)" text-anchor="end" class="yr">1991</text>
<rect x="127.58" y="495.97" width="1.64" height="3.53" fill="#4472C4"/>
<rect x="129.22" y="473.39" width="1.64" height="26.11" fill="#ED7D31"/>
<rect x="130.86" y="457.16" width="1.64" height="42.34" fill="#A5A5A5"/>
<rect x="132.49" y="427.53" width="1.64" height="71.97" fill="#FFC000"/>
<text transform="translate(133.41,502.9) rotate(-90)" text-anchor="end" class="yr">1992</text>
<rect x="137.11" y="497.38" width="1.64" height="2.12" fill="#4472C4"/>
<rect x="138.74" y="491.74" width="1.64" height="7.76" fill="#ED7D31"/>
<rect x="140.38" y="493.15" width="1.64" height="6.35" fill="#A5A5A5"/>
<rect x="142.02" y="494.56" width="1.64" height="4.94" fill="#FFC000"/>
<text transform="translate(142.94,502.9) rotate(-90)" text-anchor="end" class="yr">1993</text>
<rect x="146.63" y="497.38" width="1.64" height="2.12" fill="#4472C4"/>
<rect x="149.91" y="489.62" width="1.64" height="9.88" fill="#A5A5A5"/>
<text transform="translate(152.46,502.9) rotate(-90)" text-anchor="end" class="yr">1994</text>
<rect x="157.80" y="498.79" width="1.64" height="0.71" fill="#ED7D31"/>
<text transform="translate(161.99,502.9) rotate(-90)" text-anchor="end" class="yr">1995</text>
<text transform="translate(171.51,502.9) rotate(-90)" text-anchor="end" class="yr">1996</text>
<text transform="translate(181.03,502.9) rotate(-90)" text-anchor="end" class="yr">1997</text>
<rect x="188.01" y="496.68" width="1.64" height="2.82" fill="#A5A5A5"/>
<text transform="translate(190.56,502.9) rotate(-90)" text-anchor="end" class="yr">1998</text>
<rect x="194.26" y="496.68" width="1.64" height="2.82" fill="#4472C4"/>
<rect x="195.90" y="497.38" width="1.64" height="2.12" fill="#ED7D31"/>
<text transform="translate(200.08,502.9) rotate(-90)" text-anchor="end" class="yr">1999</text>
<rect x="203.79" y="475.51" width="1.64" height="23.99" fill="#4472C4"/>
<rect x="205.43" y="488.21" width="1.64" height="11.29" fill="#ED7D31"/>
<text transform="translate(209.61,502.9) rotate(-90)" text-anchor="end" class="yr">2000</text>
<rect x="213.31" y="495.27" width="1.64" height="4.23" fill="#4472C4"/>
<rect x="214.95" y="498.09" width="1.64" height="1.41" fill="#ED7D31"/>
<text transform="translate(219.13,502.9) rotate(-90)" text-anchor="end" class="yr">2001</text>
<rect x="222.84" y="493.86" width="1.64" height="5.64" fill="#4472C4"/>
<rect x="224.48" y="492.44" width="1.64" height="7.06" fill="#ED7D31"/>
<rect x="227.75" y="498.79" width="1.64" height="0.71" fill="#FFC000"/>
<text transform="translate(228.65,502.9) rotate(-90)" text-anchor="end" class="yr">2002</text>
<rect x="232.37" y="433.88" width="1.64" height="65.62" fill="#4472C4"/>
<rect x="234.00" y="425.41" width="1.64" height="74.09" fill="#ED7D31"/>
<rect x="235.64" y="437.41" width="1.64" height="62.09" fill="#A5A5A5"/>
<rect x="237.28" y="444.46" width="1.64" height="55.04" fill="#FFC000"/>
<text transform="translate(238.18,502.9) rotate(-90)" text-anchor="end" class="yr">2003</text>
<rect x="241.89" y="432.47" width="1.64" height="67.03" fill="#4472C4"/>
<rect x="243.53" y="447.99" width="1.64" height="51.51" fill="#ED7D31"/>
<rect x="245.17" y="447.29" width="1.64" height="52.21" fill="#A5A5A5"/>
<rect x="246.81" y="445.87" width="1.64" height="53.63" fill="#FFC000"/>
<text transform="translate(247.70,502.9) rotate(-90)" text-anchor="end" class="yr">2004</text>
<rect x="251.42" y="498.79" width="1.64" height="0.71" fill="#4472C4"/>
<rect x="256.33" y="496.68" width="1.64" height="2.82" fill="#FFC000"/>
<text transform="translate(257.23,502.9) rotate(-90)" text-anchor="end" class="yr">2005</text>
<rect x="260.94" y="483.27" width="1.64" height="16.23" fill="#4472C4"/>
<rect x="262.58" y="485.39" width="1.64" height="14.11" fill="#ED7D31"/>
<rect x="264.22" y="484.68" width="1.64" height="14.82" fill="#A5A5A5"/>
<rect x="265.86" y="464.22" width="1.64" height="35.28" fill="#FFC000"/>
<text transform="translate(266.75,502.9) rotate(-90)" text-anchor="end" class="yr">2006</text>
<rect x="270.47" y="492.44" width="1.64" height="7.06" fill="#4472C4"/>
<rect x="272.11" y="491.03" width="1.64" height="8.47" fill="#ED7D31"/>
<rect x="273.75" y="468.45" width="1.64" height="31.05" fill="#A5A5A5"/>
<rect x="275.38" y="468.45" width="1.64" height="31.05" fill="#FFC000"/>
<text transform="translate(276.27,502.9) rotate(-90)" text-anchor="end" class="yr">2007</text>
<rect x="280.00" y="443.05" width="1.64" height="56.45" fill="#4472C4"/>
<rect x="281.63" y="470.57" width="1.64" height="28.93" fill="#ED7D31"/>
<rect x="283.27" y="480.45" width="1.64" height="19.05" fill="#A5A5A5"/>
<rect x="284.91" y="489.62" width="1.64" height="9.88" fill="#FFC000"/>
<text transform="translate(285.80,502.9) rotate(-90)" text-anchor="end" class="yr">2008</text>
<rect x="292.80" y="496.68" width="1.64" height="2.82" fill="#A5A5A5"/>
<text transform="translate(295.32,502.9) rotate(-90)" text-anchor="end" class="yr">2009</text>
<text transform="translate(304.85,502.9) rotate(-90)" text-anchor="end" class="yr">2010</text>
<text transform="translate(314.37,502.9) rotate(-90)" text-anchor="end" class="yr">2011</text>
<rect x="318.10" y="469.16" width="1.64" height="30.34" fill="#4472C4"/>
<rect x="319.74" y="498.79" width="1.64" height="0.71" fill="#ED7D31"/>
<text transform="translate(323.89,502.9) rotate(-90)" text-anchor="end" class="yr">2012</text>
<rect x="327.63" y="498.79" width="1.64" height="0.71" fill="#4472C4"/>
<text transform="translate(333.42,502.9) rotate(-90)" text-anchor="end" class="yr">2013</text>
<rect x="337.15" y="492.44" width="1.64" height="7.06" fill="#4472C4"/>
<text transform="translate(342.94,502.9) rotate(-90)" text-anchor="end" class="yr">2014</text>
<rect x="346.68" y="414.83" width="1.64" height="84.67" fill="#4472C4"/>
<rect x="348.32" y="446.58" width="1.64" height="52.92" fill="#ED7D31"/>
<rect x="349.95" y="438.82" width="1.64" height="60.68" fill="#A5A5A5"/>
<rect x="351.59" y="450.11" width="1.64" height="49.39" fill="#FFC000"/>
<text transform="translate(352.47,502.9) rotate(-90)" text-anchor="end" class="yr">2015</text>
<rect x="356.20" y="476.22" width="1.64" height="23.28" fill="#4472C4"/>
<rect x="357.84" y="486.80" width="1.64" height="12.70" fill="#ED7D31"/>
<rect x="359.48" y="481.86" width="1.64" height="17.64" fill="#A5A5A5"/>
<rect x="361.12" y="494.56" width="1.64" height="4.94" fill="#FFC000"/>
<text transform="translate(361.99,502.9) rotate(-90)" text-anchor="end" class="yr">2016</text>
<rect x="365.73" y="498.44" width="1.64" height="1.06" fill="#4472C4"/>
<rect x="369.01" y="498.44" width="1.64" height="1.06" fill="#A5A5A5"/>
<text transform="translate(371.51,502.9) rotate(-90)" text-anchor="end" class="yr">2017</text>
<rect x="375.26" y="419.06" width="1.64" height="80.44" fill="#4472C4"/>
<rect x="376.89" y="417.65" width="1.64" height="81.85" fill="#ED7D31"/>
<rect x="378.53" y="413.77" width="1.64" height="85.73" fill="#A5A5A5"/>
<rect x="380.17" y="416.59" width="1.64" height="82.91" fill="#FFC000"/>
<text transform="translate(381.04,502.9) rotate(-90)" text-anchor="end" class="yr">2018</text>
<rect x="384.78" y="396.48" width="1.64" height="103.02" fill="#4472C4"/>
<rect x="386.42" y="427.18" width="1.64" height="72.32" fill="#ED7D31"/>
<rect x="388.06" y="394.37" width="1.64" height="105.13" fill="#A5A5A5"/>
<rect x="389.70" y="402.13" width="1.64" height="97.37" fill="#FFC000"/>
<text transform="translate(390.56,502.9) rotate(-90)" text-anchor="end" class="yr">2019</text>
<rect x="394.31" y="449.40" width="1.64" height="50.10" fill="#4472C4"/>
<rect x="395.95" y="479.74" width="1.64" height="19.76" fill="#ED7D31"/>
<rect x="397.58" y="460.69" width="1.64" height="38.81" fill="#A5A5A5"/>
<rect x="399.22" y="474.80" width="1.64" height="24.70" fill="#FFC000"/>
<text transform="translate(400.09,502.9) rotate(-90)" text-anchor="end" class="yr">2020</text>
<rect x="131.2" y="522.5" width="3.6" height="3.6" fill="#4472C4"/>
<text transform="translate(136.6,526.3) scale(0.92,1)" class="lg">Porajów</text>
<rect x="169.0" y="522.5" width="3.6" height="3.6" fill="#ED7D31"/>
<text transform="translate(174.8,526.3) scale(0.92,1)" class="lg">Sieniawka</text>
<rect x="211.8" y="522.5" width="3.6" height="3.6" fill="#A5A5A5"/>
<text transform="translate(217.5,526.3) scale(0.89,1)" class="lg">Zgorzelec</text>
<rect x="253.6" y="522.5" width="3.6" height="3.6" fill="#FFC000"/>
<text transform="translate(259.0,526.3) scale(0.92,1)" class="lg">Przewóz</text>
<text transform="translate(206.8,545.2) scale(1.0,1)" text-anchor="middle" class="pl">(c)</text>
</svg>
</body></html>
